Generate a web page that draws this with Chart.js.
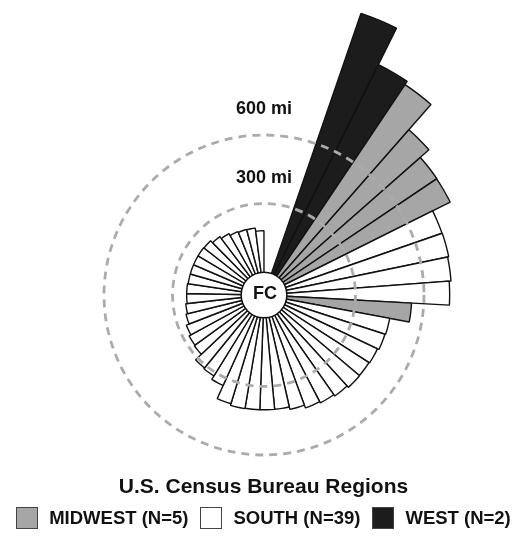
<!DOCTYPE html>
<html>
<head>
<meta charset="utf-8">
<script src="https://cdn.jsdelivr.net/npm/chart.js@4/dist/chart.umd.min.js"></script>
<style>
  html, body { margin: 0; padding: 0; background: #fff; }
  body { width: 527px; height: 550px; position: relative; overflow: hidden;
         font-family: "Liberation Sans", Arial, sans-serif; color: #111; }
  #wrap { position: absolute; left: -56px; top: -25px; width: 640px; height: 640px; }
  #legend-title { position: absolute; left: 0; width: 527px; top: 474px; text-align: center;
                  font-weight: bold; font-size: 21px; }
  #legend { position: absolute; left: 0; width: 527px; top: 506px; height: 23px; display: flex;
            justify-content: center; align-items: center; font-weight: bold; font-size: 18.5px; }
  #legend .item { display: flex; align-items: center; margin: 0 6px; }
  #legend .box { width: 20px; height: 20px; border: 1px solid #444; margin-right: 11px; }
</style>
</head>
<body>
<div id="wrap"><canvas id="chart" width="640" height="640"></canvas></div>
<div id="legend-title">U.S. Census Bureau Regions</div>
<div id="legend"></div>

<script>
/* ---------------- data: one bar per site, clockwise from the top ---------------- */
const regions = [
  'West', 'West', 'Midwest', 'Midwest', 'Midwest', 'Midwest',
  'South', 'South', 'South', 'South', 'Midwest',
  'South', 'South', 'South', 'South', 'South', 'South', 'South', 'South', 'South', 'South',
  'South', 'South', 'South', 'South', 'South', 'South', 'South', 'South', 'South', 'South',
  'South', 'South', 'South', 'South', 'South', 'South', 'South', 'South', 'South', 'South',
  'South', 'South', 'South', 'South', 'South'
];
// distance from FC, miles
const distances = [
  1202, 1024, 1007, 860, 810, 809,
  723, 724, 719, 711, 545,
  458, 455, 448, 445, 446, 438, 431, 425, 412, 401,
  401, 401, 403, 396, 333, 315, 311, 276, 272, 263,
  250, 243, 237, 237, 234, 234, 234, 234, 232, 219,
  208, 198, 195, 194, 180
];
const categories = regions.map((r, i) => r + ' ' + (i + 1));
const ringMiles = [300, 600];
const legendRegions = ['Midwest', 'South', 'West'];

const REGION_FILL = { Midwest: '#a6a6a6', South: '#ffffff', West: '#1c1c1c' };
const FONT = '"Liberation Sans", Arial, sans-serif';

/* ---------------- hub + ring labels ---------------- */
const hubPlugin = {
  id: 'hub',
  afterDraw(chart) {
    const r = chart.scales.r;
    const ctx = chart.ctx;
    const cx = r.xCenter, cy = r.yCenter;
    ctx.save();
    ctx.textAlign = 'center';
    ctx.textBaseline = 'middle';
    ctx.fillStyle = '#111';
    ctx.font = 'bold 18px ' + FONT;
    ringMiles.forEach(v => {
      ctx.fillText(v + ' mi', cx, cy - r.getDistanceFromCenterForValue(v) - 26);
    });
    const hub = r.getDistanceFromCenterForValue(0);
    ctx.beginPath();
    ctx.arc(cx, cy, hub, 0, Math.PI * 2);
    ctx.fillStyle = '#fff';
    ctx.fill();
    ctx.lineWidth = 1.5;
    ctx.strokeStyle = '#111';
    ctx.stroke();
    ctx.fillStyle = '#111';
    ctx.font = 'bold 18px ' + FONT;
    ctx.fillText('FC', cx + 1, cy - 1);
    ctx.restore();
  }
};

new Chart(document.getElementById('chart'), {
  type: 'polarArea',
  data: {
    labels: categories,
    datasets: [{
      data: distances,
      backgroundColor: regions.map(r => REGION_FILL[r]),
      borderColor: '#111',
      borderWidth: 1.4,
      spacing: 0.6,
      angle: 341 / distances.length
    }]
  },
  options: {
    responsive: false,
    animation: false,
    layout: { padding: 0 },
    plugins: { legend: { display: false }, tooltip: { enabled: false } },
    scales: {
      r: {
        min: -100,
        max: 1300,
        startAngle: 19,
        afterBuildTicks: (scale) => { scale.ticks = ringMiles.map(v => ({ value: v })); },
        ticks: { display: false },
        pointLabels: { display: false },
        angleLines: { display: false },
        grid: { circular: true, color: '#ababab', lineWidth: 2.8, z: 1 },
        border: { dash: [8, 6] }
      }
    }
  },
  plugins: [hubPlugin]
});

/* ---------------- legend ---------------- */
const legendEl = document.getElementById('legend');
legendRegions.forEach(name => {
  const n = regions.filter(r => r === name).length;
  const item = document.createElement('div');
  item.className = 'item';
  item.innerHTML = '<span class="box" style="background:' + REGION_FILL[name] + '"></span>' +
    name.toUpperCase() + ' (N=' + n + ')';
  legendEl.appendChild(item);
});
</script>
</body>
</html>
